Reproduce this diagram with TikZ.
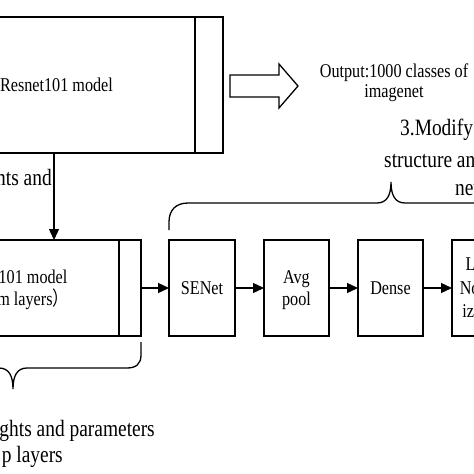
\documentclass[tikz,border=0pt]{standalone}
\usepackage{fontspec}
\setmainfont{Liberation Serif}[FakeStretch=0.83]
\newfontfamily\cjk{Noto Sans CJK SC}[FakeStretch=0.83]
\usetikzlibrary{positioning, arrows.meta, calc}

\begin{document}
\begin{tikzpicture}[
    x=1pt, y=-1pt,
    box/.style={rectangle, draw, line width=1.3pt, inner sep=0pt, outer sep=0pt, align=center, text depth=0pt, font=\fontsize{19.5}{22}\selectfont},
    strip/.style={rectangle, draw, line width=1.3pt, inner sep=0pt, outer sep=0pt},
    small/.style={inner sep=0pt, align=center, font=\fontsize{19.5}{20}\selectfont},
    note/.style={inner sep=0pt, font=\fontsize{23.4}{28}\selectfont},
    arr/.style={line width=1.3pt, -{Triangle[length=11pt, width=10pt]}},
    brace/.style={line width=1.3pt},
]
\useasboundingbox (0,0) rectangle (474,474);
\clip (0,0) rectangle (474,474);

% pretrained model
\node[box, minimum width=277pt, minimum height=136pt] (resnet) at (56.5,85) {Resnet101 model};
\node[strip, minimum width=28pt, minimum height=136pt, anchor=west] (resnetstrip) at (resnet.east) {};
\node[small] (output) at (394,82.5) {Output:1000 classes of\\imagenet};
\draw[line width=1.3pt] ($(resnetstrip.east)+(7,-10)$) -- ++(49,0) -- ++(0,-11) -- ++(19,22)
    -- ++(-19,22) -- ++(0,-11) -- ++(-49,0) -- cycle;

% bottom layers
\node[box, minimum width=172pt, minimum height=96pt] (base) at (33,288) {101 model\\m layers{\cjk ）}};
\node[strip, minimum width=22pt, minimum height=96pt, anchor=west] (basestrip) at (base.east) {};
\draw[arr] ([xshift=-2.5pt]resnet.south) -- ([xshift=-2.5pt]resnet.south |- base.north);
\node[note, anchor=base east] (transfer) at (52,185) {nts and};

% new layers
\node[box, minimum width=66pt, minimum height=96pt, right=28pt of basestrip] (senet) {SENet};
\node[box, minimum width=65pt, minimum height=96pt, right=29pt of senet] (avgpool) {Avg\\pool};
\node[box, minimum width=65pt, minimum height=96pt, right=29pt of avgpool] (dense) {Dense};
\node[box, minimum width=65pt, minimum height=96pt, right=29pt of dense, font=\fontsize{19.5}{23.5}\selectfont] (lnorm) {Layer\\Normal\\ization};
\draw[arr] (basestrip) -- (senet);
\draw[arr] (senet) -- (avgpool);
\draw[arr] (avgpool) -- (dense);
\draw[arr] (dense) -- (lnorm);

% braces
\draw[brace] (169,230) -- (169,222) .. controls (169,210) and (176,203) .. (188,203) -- (377,203)
    .. controls (387,203) and (391,195) .. (391,182) .. controls (391,195) and (395,203) .. (405,203) -- (500,203);
\draw[brace] (141,342) -- (141,355) .. controls (141,364) and (136,368) .. (127,368) -- (27,368)
    .. controls (17,368) and (13,376) .. (13,389) .. controls (13,376) and (9,368) .. (-1,368) -- (-40,368);

% notes
\node[note, anchor=base west] (modify1) at (400,135) {3.Modify};
\node[note, anchor=base west] (modify2) at (384,167) {structure and};
\node[note, anchor=base west] (modify3) at (455,195) {new};
\node[note, anchor=base east] (freeze1) at (155,436) {ghts and parameters};
\node[note, anchor=base east] (freeze2) at (63,462) {p layers};
\end{tikzpicture}
\end{document}
